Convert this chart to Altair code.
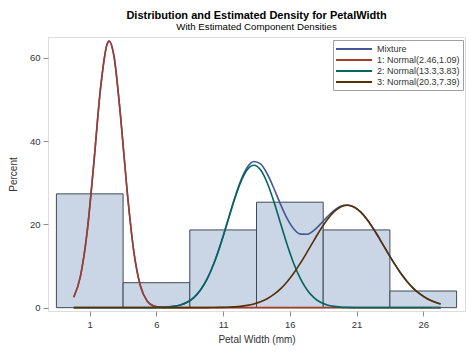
import altair as alt
import pandas as pd

# ---- data ----
bin_mid = [1, 6, 11, 16, 21, 26]
bin_pct = [27.33, 6.0, 18.67, 25.33, 18.67, 4.0]
bin_width = 5

curve_x = [-0.2, 0.3, 0.8, 1.3, 1.8, 2.3, 2.46, 2.8, 3.3, 3.8, 4.3, 4.8, 5.3, 5.8, 6.3, 6.8,
           7.3, 7.8, 8.3, 8.8, 9.3, 9.8, 10.3, 10.8, 11.3, 11.8, 12.3, 12.8, 13.3, 13.8, 14.3,
           14.8, 15.3, 15.8, 16.3, 16.8, 17.3, 17.8, 18.3, 18.8, 19.3, 19.8, 20.3, 20.8, 21.3,
           21.8, 22.3, 22.8, 23.3, 23.8, 24.3, 24.8, 25.3, 25.8, 26.3, 26.8, 27.3]

mixture = [2.49, 7.53, 18.08, 34.52, 52.41, 63.25, 64.0, 60.69, 46.30, 28.08, 13.54, 5.19, 1.59,
           0.40, 0.13, 0.15, 0.31, 0.66, 1.31, 2.43, 4.25, 6.92, 10.59, 15.18, 20.39, 25.69,
           30.33, 33.65, 35.09, 34.51, 32.16, 28.68, 24.82, 21.37, 18.89, 17.65, 17.62, 18.55,
           20.08, 21.79, 23.30, 24.33, 24.66, 24.21, 23.00, 21.13, 18.77, 16.12, 13.38, 10.74,
           8.33, 6.25, 4.53, 3.18, 2.15, 1.41, 0.89]

comp1 = [2.49, 7.53, 18.08, 34.52, 52.41, 63.25, 64.0, 60.69, 46.30, 28.08, 13.54, 5.19, 1.58,
         0.38, 0.07, 0.01] + [0.0] * 41

comp2 = [0.0] * 12 + [0.01, 0.02, 0.06, 0.14, 0.31, 0.66, 1.31, 2.43, 4.24, 6.91, 10.56, 15.12,
                      20.29, 25.50, 30.01, 33.10, 34.20, 33.10, 30.01, 25.50, 20.29, 15.12, 10.56,
                      6.91, 4.24, 2.43, 1.31, 0.66, 0.31, 0.14, 0.06, 0.02, 0.01] + [0.0] * 12

comp3 = [0.0] * 19 + [0.00, 0.01, 0.01, 0.03, 0.06, 0.10, 0.19, 0.32, 0.55, 0.89, 1.41, 2.15,
                      3.18, 4.53, 6.25, 8.33, 10.74, 13.38, 16.12, 18.77, 21.13, 22.99, 24.19,
                      24.60, 24.19, 22.99, 21.13, 18.77, 16.12, 13.38, 10.74, 8.33, 6.25, 4.53,
                      3.18, 2.15, 1.41, 0.89]

series_labels = ["Mixture", "1: Normal(2.46,1.09)", "2: Normal(13.3,3.83)", "3: Normal(20.3,7.39)"]
series_colors = ["#445694", "#A23A2E", "#01665E", "#543005"]
x_ticks = [1, 6, 11, 16, 21, 26]
y_ticks = [0, 20, 40, 60]

# ---- tables ----
bars = pd.DataFrame({"mid": bin_mid, "pct": bin_pct})
rows = []
for i, (lab, ys) in enumerate(zip(series_labels, [mixture, comp1, comp2, comp3])):
    for j, (xv, yv) in enumerate(zip(curve_x, ys)):
        rows.append({"series": lab, "x": xv, "y": yv, "ord": i * 1000 + j})
curves = pd.DataFrame(rows)

FONT = "Liberation Sans"
xscale = alt.Scale(domain=[-2.13, 29.13], nice=False, zero=False)
yscale = alt.Scale(domain=[-0.8, 65], nice=False, zero=False)

xaxis = alt.Axis(values=x_ticks, title="Petal Width (mm)", grid=False, domain=False,
                 tickSize=5, tickColor="#8a8a8a", labelPadding=3, titlePadding=6,
                 labelFontSize=9.5, titleFontSize=10, labelColor="#333333",
                 titleColor="#333333", labelFont=FONT, titleFont=FONT, titleFontWeight="normal")
yaxis = alt.Axis(values=y_ticks, title="Percent", grid=False, domain=False,
                 tickSize=5, tickColor="#8a8a8a", labelPadding=3, titlePadding=11,
                 labelFontSize=9.5, titleFontSize=10, labelColor="#333333",
                 titleColor="#333333", labelFont=FONT, titleFont=FONT, titleFontWeight="normal")

bar_layer = alt.Chart(bars).transform_calculate(
    lo=f"datum.mid - {bin_width}/2", hi=f"datum.mid + {bin_width}/2"
).mark_rect(fill="#CAD5E5", stroke="#3F4A56", strokeWidth=1).encode(
    x=alt.X("lo:Q", scale=xscale, axis=xaxis),
    x2="hi:Q",
    y=alt.Y("pct:Q", scale=yscale, axis=yaxis),
    y2=alt.datum(0),
)

line_layer = alt.Chart(curves).mark_line(interpolate="monotone", strokeWidth=1.6).encode(
    x=alt.X("x:Q", scale=xscale),
    y=alt.Y("y:Q", scale=yscale),
    order="ord:Q",
    color=alt.Color("series:N",
                    scale=alt.Scale(domain=series_labels, range=series_colors),
                    sort=series_labels,
                    legend=alt.Legend(title=None, orient="none", legendX=285, legendY=3,
                                      padding=3, strokeColor="#a0a0a0", fillColor="white",
                                      labelFontSize=9, labelFont=FONT, labelColor="#333333",
                                      rowPadding=0, symbolSize=100,
                                      symbolType="M-3.6,0H3.6", symbolStrokeWidth=2,
                                      symbolOffset=12, labelOffset=17)),
)

chart = alt.layer(bar_layer, line_layer).properties(
    width=417, height=274,
    title=alt.Title("Distribution and Estimated Density for PetalWidth",
                    subtitle="With Estimated Component Densities",
                    fontSize=11, fontWeight="bold", font=FONT, color="black",
                    subtitleFontSize=9.7, subtitleFont=FONT, subtitleColor="black",
                    subtitlePadding=1, offset=5, anchor="middle"),
    padding={"left": 48, "top": 37, "right": 9, "bottom": 44},
    autosize=alt.AutoSizeParams(type="none"),
).configure_view(stroke="#a0a0a0", strokeWidth=1).configure(background="white")

chart.save("out.html", embed_options={"renderer": "svg", "actions": False})
